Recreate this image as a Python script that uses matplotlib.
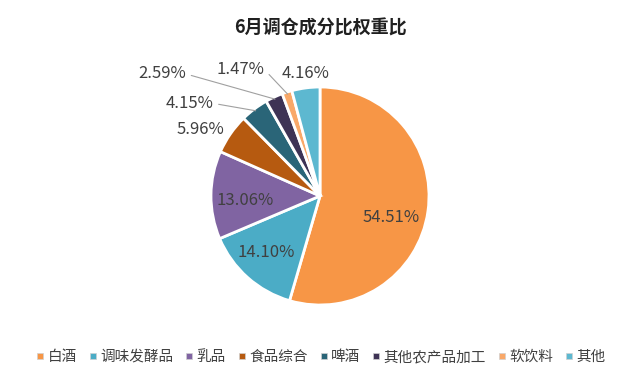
import matplotlib
matplotlib.use("Agg")
import matplotlib.pyplot as plt
import numpy as np

plt.rcParams['font.family'] = ['Noto Sans CJK SC', 'DejaVu Sans']

categories = ["白酒", "调味发酵品", "乳品", "食品综合", "啤酒", "其他农产品加工", "软饮料", "其他"]
values = [54.51, 14.10, 13.06, 5.96, 4.15, 2.59, 1.47, 4.16]
labels = ["54.51%", "14.10%", "13.06%", "5.96%", "4.15%", "2.59%", "1.47%", "4.16%"]
colors = ["#F79646", "#4BACC6", "#8064A2", "#B65A10", "#2A6578", "#3E3355", "#F9A868", "#5DB8D0"]

# label layout (data coords, radius 1 pie) and whether a leader line is drawn
label_pos = [(0.65, -0.20), (-0.49, -0.52), (-0.69, -0.04), (-1.10, 0.61),
             (-1.20, 0.85), (-1.45, 1.12), (-0.73, 1.16), (-0.13, 1.12)]
leader = [False, False, False, False, True, True, True, False]

fig = plt.figure(figsize=(6.4, 3.84), dpi=100)
fig.patch.set_facecolor("white")
cx, cy, r = 320, 196, 109
ax = fig.add_axes([(cx - r) / 640, (384 - cy - r) / 384, 2 * r / 640, 2 * r / 384])
wedges, _ = ax.pie(values, colors=colors, startangle=90, counterclock=False, radius=1,
                   wedgeprops=dict(edgecolor="white", linewidth=2))
ax.set_xlim(-1, 1)
ax.set_ylim(-1, 1)
ax.set_aspect("equal")
ax.axis("off")

for w, lab, pos, ld in zip(wedges, labels, label_pos, leader):
    ang = np.deg2rad((w.theta1 + w.theta2) / 2)
    if ld:
        ex, ey = np.cos(ang) * 0.98, np.sin(ang) * 0.98
        tx, ty = pos
        ax.annotate(lab, xy=(ex, ey), xytext=(tx, ty), ha="center", va="center",
                    fontsize=12, color="#404040", annotation_clip=False,
                    arrowprops=dict(arrowstyle="-", color="#A0A0A0", lw=0.8,
                                    shrinkA=2, shrinkB=0, relpos=(1.0, 0.5)))
    else:
        ax.text(pos[0], pos[1], lab, ha="center", va="center", fontsize=12,
                color="#404040", clip_on=False)

fig.text(0.5, 1 - 28 / 384, "6月调仓成分比权重比", ha="center", va="center",
         fontsize=13, fontweight="bold", color="#202020")

handles = [plt.Line2D([0], [0], marker="s", linestyle="none", markersize=5,
                      markerfacecolor=c, markeredgecolor="#D0D0D0", markeredgewidth=0.5)
           for c in colors]
fig.legend(handles, categories, loc="center", bbox_to_anchor=(0.5, 1 - 357 / 384),
           ncol=8, frameon=False, fontsize=10.5, handletextpad=0.1, columnspacing=0.7,
           handlelength=0.8, labelcolor="#404040")

fig.savefig("out.png", dpi=100, facecolor="white")
